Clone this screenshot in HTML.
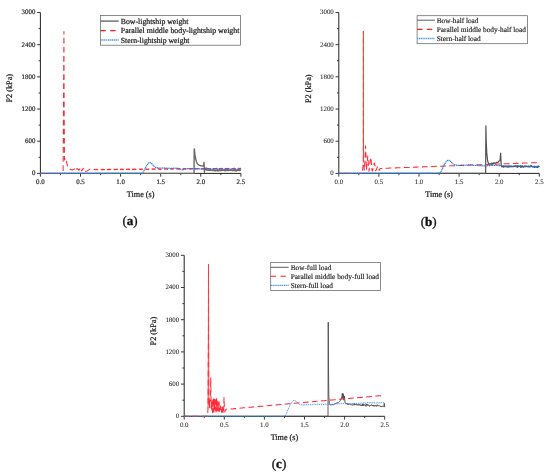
<!DOCTYPE html>
<html><head><meta charset="utf-8"><title>P2 pressure curves</title>
<style>
html,body{margin:0;padding:0;background:#fff;}
body{width:550px;height:476px;overflow:hidden;}
svg{display:block;text-rendering:geometricPrecision;filter:blur(0.35px);}
text{font-family:"Liberation Serif","DejaVu Serif",serif;fill:#1a1a1a;stroke:#1a1a1a;stroke-width:0.18px;}
.yt{font-size:6.9px;text-anchor:end;}
.xt{font-size:6.9px;text-anchor:middle;}
.xl{font-size:8.6px;text-anchor:middle;stroke-width:0.24px;}
.yl{font-size:8.5px;text-anchor:middle;stroke-width:0.2px;}
.lt{font-size:7.6px;stroke-width:0.22px;}
.lred{fill:none;stroke:#ff1f1f;stroke-width:1.1;stroke-dasharray:5.4 4.4;}
.lblue{fill:none;stroke:#3a8ce8;stroke-width:1.2;stroke-dasharray:1.2 0.7;}
.lblueb{fill:none;stroke:#4a94ea;stroke-width:1.35;stroke-dasharray:1.2 0.6;}
.lbluea{fill:none;stroke:#4a94ea;stroke-width:1.5;stroke-dasharray:1.3 0.6;}
.cap{font-size:13.1px;stroke-width:0.3px;text-anchor:middle;fill:#111;stroke:#111;}
.lt2{stroke-width:0.08px;fill:#2a2a2a;stroke:#2a2a2a;}
.b{font-weight:bold;stroke-width:0.35px;}
.ax{fill:none;stroke:#222;stroke-width:1;}
.tk{fill:none;stroke:#222;stroke-width:0.9;}
.lg{fill:none;stroke:#666;stroke-width:0.75;}
.red{fill:none;stroke:#ff2a3a;stroke-width:1.05;stroke-dasharray:5.7 3.4;stroke-linejoin:round;}
.bluec{fill:none;stroke:#2a84e8;stroke-width:1.0;stroke-dasharray:1.1 0.8;stroke-linejoin:round;}
.rsp{fill:none;stroke:#ff3838;stroke-width:0.8;}
.blue{fill:none;stroke:#1c78e0;stroke-width:1.15;stroke-dasharray:1.3 0.5;stroke-linejoin:round;}
.bow{fill:none;stroke:#4a4a4a;stroke-width:0.9;stroke-linejoin:round;}
.bowb{fill:none;stroke:#505050;stroke-width:1.2;stroke-linejoin:round;}
.bowa{fill:none;stroke:#6a6a6a;stroke-width:1.4;stroke-linejoin:round;}
</style></head>
<body>
<svg width="550" height="476" viewBox="0 0 550 476">
<path d="M40.40 12.50V173.40H240.90" class="ax"/>
<text x="35.40" y="175.35" class="yt">0</text>
<text x="35.40" y="143.17" class="yt">600</text>
<text x="35.40" y="110.99" class="yt">1200</text>
<text x="35.40" y="78.81" class="yt">1800</text>
<text x="35.40" y="46.63" class="yt">2400</text>
<text x="35.40" y="14.45" class="yt">3000</text>
<text x="40.40" y="184.00" class="xt">0.0</text>
<text x="80.50" y="184.00" class="xt">0.5</text>
<text x="120.60" y="184.00" class="xt">1.0</text>
<text x="160.70" y="184.00" class="xt">1.5</text>
<text x="200.80" y="184.00" class="xt">2.0</text>
<text x="240.90" y="184.00" class="xt">2.5</text>
<path d="M40.40 173.40h-3.3M40.40 141.22h-3.3M40.40 109.04h-3.3M40.40 76.86h-3.3M40.40 44.68h-3.3M40.40 12.50h-3.3M40.40 157.31h-1.8M40.40 125.13h-1.8M40.40 92.95h-1.8M40.40 60.77h-1.8M40.40 28.59h-1.8M40.40 173.40v3.3M80.50 173.40v3.3M120.60 173.40v3.3M160.70 173.40v3.3M200.80 173.40v3.3M240.90 173.40v3.3M60.45 173.40v1.8M100.55 173.40v1.8M140.65 173.40v1.8M180.75 173.40v1.8M220.85 173.40v1.8" class="tk"/>
<text x="140.65" y="197.40" class="xl" textLength="27.6" lengthAdjust="spacingAndGlyphs">Time (s)</text>
<text transform="translate(11.60 88.25) rotate(-90)" class="yl" textLength="28.6" lengthAdjust="spacingAndGlyphs">P2 (kPa)</text>
<path d="M40.40 173.40L194.06 173.40L194.22 149.00L194.38 149.00L194.70 152.28L195.03 154.92L195.35 157.04L195.67 158.74L195.99 160.11L196.31 161.21L196.63 162.09L196.95 162.81L197.27 163.39L197.59 163.86L197.91 164.24L198.23 164.55L198.55 164.80L198.88 165.01L199.20 165.18L199.52 165.33L199.84 165.45L200.16 165.55L200.48 165.64L200.80 165.71L201.12 165.78L201.44 165.84L201.76 165.89L202.08 165.94L202.40 165.98L202.72 166.02L203.05 166.06L203.37 166.09L203.69 166.13L203.93 162.41L204.17 165.36L204.41 172.33L204.73 168.57L205.29 169.65L206.09 167.77L206.90 170.18L207.62 170.07L208.02 169.97L208.42 170.18L208.82 170.42L209.22 170.26L209.62 170.46L210.02 170.07L210.42 169.59L210.82 170.28L211.23 170.33L211.63 169.92L212.03 169.97L212.43 170.07L212.83 170.46L213.23 170.12L213.63 169.85L214.03 170.62L214.43 170.29L214.83 170.84L215.24 170.61L215.64 170.82L216.04 170.22L216.44 170.61L216.84 170.03L217.24 170.08L217.64 170.21L218.04 171.09L218.44 170.35L218.84 170.17L219.25 170.11L219.65 170.73L220.05 170.34L220.45 170.53L220.85 170.47L221.25 169.77L221.65 170.47L222.05 170.18L222.45 169.84L222.85 170.40L223.26 170.22L223.66 170.14L224.06 170.16L224.46 170.65L224.86 170.16L225.26 169.68L225.66 170.78L226.06 169.88L226.46 170.16L226.86 170.44L227.27 169.46L227.67 169.92L228.07 170.66L228.47 170.19L228.87 170.00L229.27 170.29L229.67 169.97L230.07 170.25L230.47 169.98L230.87 169.69L231.28 170.49L231.68 170.16L232.08 170.41L232.48 170.19L232.88 170.69L233.28 170.46L233.68 170.32L234.08 169.91L234.48 169.82L234.88 170.75L235.29 170.56L235.69 170.02L236.09 171.01L236.49 170.44L236.89 170.31L237.29 169.80L237.69 170.02L238.09 170.40L238.49 170.42L238.89 170.38L239.30 169.71L239.70 170.45L240.10 170.41L240.50 170.16L240.90 170.34" class="bowa"/>
<path d="M40.40 173.40L63.10 173.40L63.94 31.54L64.10 98.31L64.46 159.99L65.50 158.01L67.51 166.00L69.99 169.32L72.00 170.02L74.48 169.00L75.53 170.99L76.97 168.52L78.90 170.18L80.90 167.50L81.70 170.99L83.31 168.30L84.35 171.79L86.92 170.99L90.12 169.11L93.33 169.54L94.94 169.34L95.34 169.63L95.74 169.41L96.14 169.70L96.54 169.38L96.94 169.72L97.34 169.19L97.74 169.74L98.14 169.24L98.55 169.70L98.95 169.34L99.35 169.65L99.75 169.31L100.15 169.55L100.55 169.43L100.95 169.79L101.35 169.40L101.75 169.63L102.15 169.36L102.56 169.92L102.96 169.30L103.36 169.61L103.76 169.36L104.16 169.75L104.56 169.31L104.96 169.82L105.36 169.14L105.76 169.68L106.16 169.23L106.57 169.53L106.97 169.26L107.37 169.68L107.77 169.38L108.17 169.75L108.57 169.33L108.97 169.41L109.37 169.22L109.77 169.67L110.17 169.21L110.58 169.66L110.98 169.25L111.38 169.42L111.78 169.31L112.18 169.70L112.58 169.31L112.98 169.81L113.38 169.11L113.78 169.52L114.18 169.30L114.59 169.81L114.99 169.22L115.39 169.57L115.79 169.41L116.19 169.56L116.59 169.19L116.99 169.54L117.39 169.24L117.79 169.60L118.19 169.22L118.60 169.65L119.00 168.96L119.40 169.43L119.80 169.19L120.20 169.65L120.60 169.22L121.00 169.55L121.40 169.08L121.80 169.59L122.20 169.09L122.61 169.67L123.01 169.04L123.41 169.52L123.81 169.02L124.21 169.33L124.61 169.19L125.01 169.55L125.41 169.03L125.81 169.64L126.21 169.22L126.62 169.54L127.02 169.18L127.42 169.48L127.82 169.06L128.22 169.45L128.62 169.01L129.02 169.56L129.42 169.13L129.82 169.54L130.22 169.17L130.63 169.40L131.03 169.07L131.43 169.65L131.83 168.99L132.23 169.63L132.63 169.17L133.03 169.57L133.43 169.17L133.83 169.52L134.23 169.02L134.64 169.55L135.04 169.14L135.44 169.41L135.84 169.19L136.24 169.43L136.64 169.11L137.04 169.38L137.44 169.10L137.84 169.34L138.24 168.98L138.65 169.39L139.05 169.01L139.45 169.30L139.85 169.17L140.25 169.46L140.65 168.96L141.05 169.44L141.45 168.92L141.85 169.48L142.25 169.05L142.66 169.36L143.06 169.01L143.46 169.43L143.86 169.02L144.26 169.41L144.66 168.94L145.06 169.27L145.46 168.96L145.86 169.45L146.26 168.84L146.67 169.44L147.07 169.19L147.47 169.40L147.87 169.01L148.27 169.41L148.67 168.94L149.07 169.31L149.47 169.01L149.87 169.34L150.27 168.74L150.68 169.23L151.08 168.99L151.48 169.39L151.88 168.99L152.28 169.45L152.68 168.81L153.08 169.26L153.48 168.85L153.88 169.30L154.28 168.89L154.69 169.26L155.09 168.90L155.49 169.28L155.89 168.83L156.29 169.28L156.69 168.82L157.09 169.24L157.49 168.99L157.89 169.42L158.29 168.78L158.70 169.22L159.10 168.85L159.50 169.36L159.90 168.85L160.30 169.38L160.70 168.94L161.10 169.44L161.50 168.86L161.90 169.13L162.30 168.84L162.71 169.28L163.11 168.83L163.51 169.11L163.91 169.01L164.31 169.27L164.71 168.80L165.11 169.11L165.51 168.61L165.91 169.07L166.31 168.84L166.72 169.14L167.12 168.80L167.52 169.34L167.92 168.83L168.32 169.10L168.72 168.56L169.12 169.24L169.52 168.83L169.92 169.17L170.32 168.59L170.73 169.18L171.13 168.60L171.53 169.20L171.93 168.74L172.33 169.25L172.73 168.63L173.13 169.12L173.53 168.90L173.93 169.18L174.33 168.71L174.74 169.27L175.14 168.92L175.54 169.03L175.94 168.68L176.34 169.16L176.74 168.70L177.14 169.00L177.54 168.79L177.94 169.10L178.34 168.76L178.75 169.25L179.15 168.60L179.55 169.27L179.95 168.58L180.35 169.15L180.75 168.79L181.15 169.14L181.55 168.77L181.95 169.08L182.35 168.69L182.76 169.18L183.16 168.58L183.56 168.89L183.96 168.51L184.36 169.01L184.76 168.59L185.16 168.97L185.56 168.69L185.96 169.18L186.36 168.60L186.77 169.02L187.17 168.66L187.57 169.29L187.97 168.78L188.37 168.95L188.77 168.65L189.17 169.16L189.57 168.67L189.97 169.04L190.37 168.60L190.78 169.08L191.18 168.76L191.58 169.00L191.98 168.61L192.38 168.87L192.78 168.66L193.18 169.11L193.58 168.64L193.98 169.09L194.38 168.59L194.79 169.23L195.19 168.72L195.59 169.09L195.99 168.44L196.39 168.92L196.79 168.67L197.19 168.91L197.59 168.43L197.99 169.05L198.39 168.60L198.80 168.81L199.20 168.43L199.60 168.99L200.00 168.52L200.40 168.77L200.80 168.42L201.20 168.88L201.60 168.55L202.00 169.06L202.40 168.48L202.81 168.91L203.21 168.55L203.61 168.96L204.01 168.55L204.41 169.04L204.81 168.46L205.21 168.97L205.61 168.53L206.01 168.95L206.41 168.53L206.82 169.15L207.22 168.39L207.62 168.89L208.02 168.35L208.42 168.81L208.82 168.54L209.22 169.01L209.62 168.62L210.02 169.09L210.42 168.44L210.83 168.85L211.23 168.56L211.63 168.82L212.03 168.59L212.43 168.86L212.83 168.40L213.23 168.83L213.63 168.49L214.03 168.94L214.43 168.57L214.84 168.97L215.24 168.45L215.64 168.77L216.04 168.22L216.44 168.80L216.84 168.32L217.24 168.95L217.64 168.24L218.04 168.88L218.44 168.38L218.85 168.83L219.25 168.46L219.65 168.92L220.05 168.47L220.45 169.00L220.85 168.41L221.25 168.60L221.65 168.32L222.05 168.78L222.45 168.34L222.86 168.68L223.26 168.40L223.66 168.84L224.06 168.24L224.46 168.74L224.86 168.31L225.26 168.70L225.66 168.40L226.06 168.86L226.46 168.41L226.87 168.64L227.27 168.49L227.67 168.89L228.07 168.42L228.47 168.74L228.87 168.34L229.27 168.65L229.67 168.42L230.07 168.62L230.47 168.31L230.88 168.73L231.28 168.20L231.68 168.82L232.08 168.51L232.48 168.81L232.88 168.43L233.28 168.83L233.68 168.34L234.08 168.71L234.48 168.15L234.89 168.82L235.29 168.50L235.69 168.78L236.09 168.34L236.49 168.83L236.89 168.32L237.29 168.78L237.69 168.49L238.09 168.59L238.49 168.21L238.90 168.61L239.30 168.26L239.70 168.68L240.10 168.22L240.50 168.59L240.90 168.16" class="red" stroke-dashoffset="2.09"/>
<path d="M40.40 173.40L141.85 173.40L142.25 173.16L142.66 172.73L143.06 172.17L143.46 171.53L143.86 170.82L144.26 170.07L144.66 169.29L145.06 168.49L145.46 167.70L145.86 166.93L146.26 166.18L146.66 165.48L147.07 164.83L147.47 164.24L147.87 163.73L148.27 163.30L148.67 162.96L149.07 162.71L149.47 162.56L149.87 162.51L150.27 162.57L150.67 162.73L151.08 162.99L151.48 163.33L151.88 163.73L152.28 164.18L152.68 164.65L153.08 165.12L153.48 165.58L153.88 166.00L154.28 166.39L154.68 166.73L155.09 167.02L155.49 167.26L155.89 167.45L156.29 167.61L156.69 167.73L157.09 167.82L157.49 167.89L157.89 167.94L158.29 167.99L159.10 167.97L159.90 168.10L160.70 167.98L161.50 167.98L162.30 167.95L163.11 168.08L163.91 167.86L164.71 168.02L165.51 168.16L166.31 168.24L167.12 168.16L167.92 168.18L168.72 168.26L169.52 168.22L170.32 168.29L171.13 168.20L171.93 168.30L172.73 168.23L173.53 168.13L174.33 167.98L175.14 168.24L175.94 168.18L176.74 168.21L177.54 168.12L178.34 168.39L179.15 168.57L179.95 168.88L180.75 169.37L181.55 169.72L182.35 169.84L183.16 169.89L183.96 169.55L184.76 169.11L185.56 168.79L186.36 168.64L187.17 168.68L187.97 168.55L188.77 168.45L189.57 168.48L190.37 168.54L191.18 168.60L191.98 168.48L192.78 168.58L193.58 168.64L194.38 168.62L195.19 168.46L195.99 168.59L196.79 168.55L197.59 168.74L198.39 168.68L199.20 168.87L200.00 168.89L200.80 168.75L201.60 168.92L202.40 169.05L203.21 169.04L204.01 169.02L204.81 168.95L205.61 169.08L206.41 169.17L207.22 169.03L208.02 168.98L208.82 168.95L209.62 168.83L210.42 168.89L211.23 168.84L212.03 168.99L212.83 168.83L213.63 168.75L214.43 168.88L215.24 168.95L216.04 169.00L216.84 168.90L217.64 169.16L218.44 169.13L219.25 169.11L220.05 169.11L220.85 169.22L221.65 169.16L222.45 169.20L223.26 169.15L224.06 169.15L224.86 169.21L225.66 169.10L226.46 169.00L227.27 169.13L228.07 169.06L228.87 168.98L229.67 169.13L230.47 169.04L231.28 169.16L232.08 169.02L232.88 168.96L233.68 169.02L234.48 169.24L235.29 169.20L236.09 169.27L236.89 169.30L237.69 169.19L238.49 169.43L239.30 169.23L240.10 169.30L240.90 169.16" class="blue"/>
<path d="M338.80 12.50V173.40H539.30" class="ax"/>
<text x="333.80" y="175.35" class="yt lt2">0</text>
<text x="333.80" y="143.17" class="yt lt2">600</text>
<text x="333.80" y="110.99" class="yt lt2">1200</text>
<text x="333.80" y="78.81" class="yt lt2">1800</text>
<text x="333.80" y="46.63" class="yt lt2">2400</text>
<text x="333.80" y="14.45" class="yt lt2">3000</text>
<text x="338.80" y="184.00" class="xt lt2">0.0</text>
<text x="378.90" y="184.00" class="xt lt2">0.5</text>
<text x="419.00" y="184.00" class="xt lt2">1.0</text>
<text x="459.10" y="184.00" class="xt lt2">1.5</text>
<text x="499.20" y="184.00" class="xt lt2">2.0</text>
<text x="539.30" y="184.00" class="xt lt2">2.5</text>
<path d="M338.80 173.40h-3.3M338.80 141.22h-3.3M338.80 109.04h-3.3M338.80 76.86h-3.3M338.80 44.68h-3.3M338.80 12.50h-3.3M338.80 157.31h-1.8M338.80 125.13h-1.8M338.80 92.95h-1.8M338.80 60.77h-1.8M338.80 28.59h-1.8M338.80 173.40v3.3M378.90 173.40v3.3M419.00 173.40v3.3M459.10 173.40v3.3M499.20 173.40v3.3M539.30 173.40v3.3M358.85 173.40v1.8M398.95 173.40v1.8M439.05 173.40v1.8M479.15 173.40v1.8M519.25 173.40v1.8" class="tk"/>
<text x="439.05" y="197.00" class="xl" textLength="27.6" lengthAdjust="spacingAndGlyphs">Time (s)</text>
<text transform="translate(310.60 88.70) rotate(-90)" class="yl" textLength="28.6" lengthAdjust="spacingAndGlyphs">P2 (kPa)</text>
<path d="M338.80 173.40L485.65 173.40L485.89 125.88L486.21 141.22L486.77 153.02L487.57 160.53L488.37 163.21L489.18 164.01L490.38 163.75L491.18 164.55L491.98 162.94L492.78 164.28L493.99 162.67L495.19 163.48L496.39 162.41L497.60 162.67L498.80 161.33L500.00 160.53L500.64 153.02L500.96 159.99L501.29 166.16L501.61 166.45L501.93 166.82L502.25 166.42L502.57 166.22L502.89 166.52L503.21 166.33L503.53 166.76L503.85 167.45L504.17 166.15L504.49 166.23L504.81 166.47L505.13 166.51L505.46 166.09L505.78 166.73L506.10 166.84L506.42 166.62L506.74 166.02L507.06 167.13L507.38 166.02L507.70 166.81L508.02 167.01L508.34 165.99L508.66 166.58L508.98 167.09L509.31 166.69L509.63 166.14L509.95 166.02L510.27 166.72L510.59 166.36L510.91 166.23L511.23 166.81L511.55 166.38L511.87 166.55L512.19 166.76L512.51 166.75L512.83 166.51L513.15 166.52L513.48 166.78L513.80 166.72L514.12 166.06L514.44 166.44L514.76 166.16L515.08 166.02L515.40 166.28L515.72 165.56L516.04 166.89L516.36 166.19L516.68 166.67L517.00 165.74L517.33 165.81L517.65 167.37L517.97 166.95L518.29 166.25L518.61 166.20L518.93 166.22L519.25 166.57L519.57 166.34L519.89 166.25L520.21 166.57L520.53 166.09L520.85 167.50L521.17 166.26L521.50 166.98L521.82 166.12L522.14 166.63L522.46 166.92L522.78 166.37L523.10 166.93L523.42 166.93L523.74 167.21L524.06 166.55L524.38 166.32L524.70 166.10L525.02 166.60L525.35 166.09L525.67 166.53L525.99 166.57L526.31 166.29L526.63 166.08L526.95 166.68L527.27 166.64L527.59 166.60L527.91 166.50L528.23 166.92L528.55 166.09L528.87 166.71L529.19 166.34L529.52 166.89L529.84 166.38L530.16 166.37L530.48 166.72L530.80 165.67L531.12 166.38L531.44 165.77L531.76 166.12L532.08 166.82L532.40 166.70L532.72 166.35L533.04 166.51L533.37 166.51L533.69 166.66L534.01 167.31L534.33 166.63L534.65 167.49L534.97 166.38L535.29 166.85L535.61 166.84L535.93 166.63L536.25 166.42L536.57 167.15L536.89 167.29L537.21 166.99L537.54 167.41L537.86 166.95L538.18 165.85L538.50 166.99L538.82 166.26L539.14 167.12" class="bowb"/>
<path d="M338.80 173.40L362.22 173.40L363.38 162.67L363.42 31.27L363.46 159.99L363.82 162.67L364.30 170.18L364.95 161.06L365.51 145.78L365.91 153.02L366.39 170.18L367.03 163.75L367.83 155.81L368.39 165.36L369.04 171.25L369.76 164.28L370.56 157.31L371.20 160.53L371.92 170.18L372.56 170.99L373.29 166.96L374.25 162.94L374.89 164.82L375.61 170.72L376.33 169.65L377.14 167.50L378.02 166.16L378.58 168.04L379.14 170.45L379.70 169.11L380.50 168.41L381.31 168.40L382.11 168.39L382.91 168.35L383.71 168.31L384.51 168.25L385.32 168.26L386.12 168.23L386.92 168.23L387.72 168.16L388.52 168.15L389.33 168.09L390.13 168.08L390.93 168.01L391.73 168.08L392.53 168.00L393.34 167.94L394.14 167.94L394.94 167.92L395.74 167.88L396.54 167.88L397.35 167.81L398.15 167.72L398.95 167.72L399.75 167.75L400.55 167.72L401.36 167.67L402.16 167.61L402.96 167.63L403.76 167.59L404.56 167.52L405.37 167.49L406.17 167.49L406.97 167.48L407.77 167.47L408.57 167.41L409.38 167.42L410.18 167.31L410.98 167.32L411.78 167.26L412.58 167.19L413.39 167.18L414.19 167.22L414.99 167.13L415.79 167.09L416.59 167.11L417.40 167.09L418.20 167.04L419.00 167.05L419.80 166.94L420.60 167.01L421.41 166.94L422.21 166.89L423.01 166.86L423.81 166.82L424.61 166.79L425.42 166.77L426.22 166.70L427.02 166.76L427.82 166.68L428.62 166.66L429.43 166.61L430.23 166.58L431.03 166.58L431.83 166.54L432.63 166.47L433.44 166.46L434.24 166.45L435.04 166.35L435.84 166.31L436.64 166.38L437.45 166.31L438.25 166.22L439.05 166.23L439.85 166.22L440.65 166.20L441.46 166.18L442.26 166.14L443.06 166.12L443.86 166.06L444.66 166.06L445.47 166.03L446.27 166.02L447.07 165.96L447.87 165.95L448.67 165.90L449.48 165.84L450.28 165.83L451.08 165.79L451.88 165.77L452.68 165.75L453.49 165.72L454.29 165.70L455.09 165.64L455.89 165.66L456.69 165.56L457.50 165.57L458.30 165.56L459.10 165.52L459.90 165.50L460.70 165.44L461.51 165.44L462.31 165.36L463.11 165.38L463.91 165.39L464.71 165.32L465.52 165.32L466.32 165.24L467.12 165.18L467.92 165.16L468.72 165.18L469.53 165.14L470.33 165.04L471.13 165.05L471.93 165.03L472.73 164.97L473.54 164.90L474.34 164.90L475.14 164.90L475.94 164.87L476.74 164.83L477.55 164.83L478.35 164.82L479.15 164.76L479.95 164.75L480.75 164.70L481.56 164.67L482.36 164.58L483.16 164.63L483.96 164.58L484.76 164.55L485.57 164.51L486.37 164.46L487.17 164.47L487.97 164.45L488.77 164.44L489.58 164.39L490.38 164.32L491.18 164.31L491.98 164.31L492.78 164.26L493.59 164.22L494.39 164.18L495.19 164.18L495.99 164.14L496.79 164.15L497.60 164.10L498.40 164.00L499.20 164.07L500.00 163.99L500.80 163.94L501.61 163.93L502.41 163.91L503.21 163.86L504.01 163.83L504.81 163.80L505.62 163.82L506.42 163.74L507.22 163.73L508.02 163.70L508.82 163.64L509.63 163.60L510.43 163.57L511.23 163.57L512.03 163.51L512.83 163.47L513.64 163.44L514.44 163.40L515.24 163.41L516.04 163.39L516.84 163.33L517.65 163.36L518.45 163.29L519.25 163.28L520.05 163.24L520.85 163.25L521.66 163.20L522.46 163.14L523.26 163.09L524.06 163.05L524.86 163.05L525.67 163.03L526.47 163.01L527.27 162.95L528.07 162.94L528.87 162.89L529.68 162.82L530.48 162.84L531.28 162.85L532.08 162.81L532.88 162.79L533.69 162.75L534.49 162.66L535.29 162.66L536.09 162.67L536.89 162.58L537.70 162.54L538.50 162.55L539.30 162.53" class="red" stroke-dashoffset="1.04"/>
<path d="M363.38 162.67L363.42 31.27L363.46 159.99" class="rsp"/>
<path d="M338.80 173.40L439.37 173.40L439.69 173.23L440.09 172.82L440.49 172.28L440.89 171.64L441.30 170.93L441.70 170.16L442.10 169.35L442.50 168.51L442.90 167.66L443.30 166.81L443.70 165.97L444.10 165.15L444.50 164.37L444.90 163.63L445.31 162.94L445.71 162.32L446.11 161.76L446.51 161.28L446.91 160.89L447.31 160.58L447.71 160.36L448.11 160.24L448.43 160.21L448.83 160.25L449.24 160.40L449.64 160.63L450.04 160.93L450.44 161.29L450.84 161.68L451.24 162.10L451.64 162.51L452.04 162.92L452.44 163.29L452.84 163.63L453.25 163.93L453.65 164.19L454.05 164.40L454.45 164.57L454.85 164.71L455.25 164.82L455.65 164.90L456.05 164.95L456.45 165.00L456.69 165.38L457.50 165.31L458.30 165.28L459.10 165.20L459.90 165.20L460.70 165.19L461.51 165.14L462.31 165.23L463.11 165.55L463.91 165.29L464.71 165.17L465.52 165.25L466.32 165.00L467.12 165.17L467.92 165.23L468.72 164.83L469.53 164.95L470.33 165.02L471.13 164.91L471.93 164.91L472.73 165.05L473.54 165.54L474.34 165.31L475.14 165.33L475.94 165.47L476.74 165.35L477.55 165.26L478.35 165.59L479.15 165.76L479.95 165.31L480.75 165.76L481.56 165.93L482.36 165.73L483.16 165.73L483.96 165.92L484.76 165.69L485.57 165.89L486.37 165.94L487.17 165.74L487.97 165.61L488.77 165.80L489.58 165.61L490.38 165.64L491.18 165.13L491.98 165.66L492.78 165.29L493.59 165.50L494.39 165.50L495.19 165.36L495.99 165.33L496.79 165.29L497.60 165.46L498.40 165.65L499.20 165.68L500.00 165.57L500.80 165.62L501.61 165.55L502.41 165.77L503.21 165.74L504.01 165.73L504.81 166.01L505.62 166.33L506.42 166.33L507.22 166.41L508.02 165.95L508.82 166.36L509.63 166.04L510.43 166.14L511.23 165.95L512.03 166.04L512.83 166.19L513.64 166.17L514.44 166.09L515.24 166.03L516.04 166.11L516.84 165.99L517.65 165.69L518.45 166.20L519.25 165.86L520.05 166.04L520.85 165.86L521.66 165.77L522.46 165.94L523.26 165.83L524.06 166.25L524.86 165.87L525.67 166.20L526.47 166.07L527.27 166.20L528.07 166.72L528.87 166.49L529.68 166.39L530.48 166.24L531.28 166.49L532.08 166.54L532.88 166.84L533.69 166.41L534.49 166.36L535.29 166.65L536.09 166.68L536.89 166.89L537.70 166.46L538.50 166.14L539.30 166.42" class="blue"/>
<path d="M184.20 255.30V416.30H384.70" class="ax"/>
<text x="179.20" y="418.25" class="yt lt2">0</text>
<text x="179.20" y="386.05" class="yt lt2">600</text>
<text x="179.20" y="353.85" class="yt lt2">1200</text>
<text x="179.20" y="321.65" class="yt lt2">1800</text>
<text x="179.20" y="289.45" class="yt lt2">2400</text>
<text x="179.20" y="257.25" class="yt lt2">3000</text>
<text x="184.20" y="426.90" class="xt lt2">0.0</text>
<text x="224.30" y="426.90" class="xt lt2">0.5</text>
<text x="264.40" y="426.90" class="xt lt2">1.0</text>
<text x="304.50" y="426.90" class="xt lt2">1.5</text>
<text x="344.60" y="426.90" class="xt lt2">2.0</text>
<text x="384.70" y="426.90" class="xt lt2">2.5</text>
<path d="M184.20 416.30h-3.3M184.20 384.10h-3.3M184.20 351.90h-3.3M184.20 319.70h-3.3M184.20 287.50h-3.3M184.20 255.30h-3.3M184.20 400.20h-1.8M184.20 368.00h-1.8M184.20 335.80h-1.8M184.20 303.60h-1.8M184.20 271.40h-1.8M184.20 416.30v3.3M224.30 416.30v3.3M264.40 416.30v3.3M304.50 416.30v3.3M344.60 416.30v3.3M384.70 416.30v3.3M204.25 416.30v1.8M244.35 416.30v1.8M284.45 416.30v1.8M324.55 416.30v1.8M364.65 416.30v1.8" class="tk"/>
<text x="284.45" y="439.70" class="xl" textLength="27.6" lengthAdjust="spacingAndGlyphs">Time (s)</text>
<text transform="translate(156.00 331.10) rotate(-90)" class="yl" textLength="28.6" lengthAdjust="spacingAndGlyphs">P2 (kPa)</text>
<path d="M184.20 416.30L328.00 416.30L328.24 322.12L328.48 368.00L328.80 394.83L329.36 403.96L330.16 404.82L330.97 405.03L332.17 404.49L333.37 404.76L334.57 403.96L335.78 403.42L336.98 402.88L338.18 402.62L339.39 401.81L340.59 400.20L341.79 396.98L342.35 393.22L342.84 398.59L343.32 393.76L343.80 400.20L344.36 395.91L345.00 402.35L346.20 403.96L347.01 403.45L347.33 403.82L347.65 404.58L347.97 403.47L348.29 404.73L348.61 404.26L348.93 404.04L349.25 403.77L349.57 404.01L349.89 404.05L350.21 404.62L350.53 404.89L350.86 404.26L351.18 404.65L351.50 404.96L351.82 404.96L352.14 404.60L352.46 405.28L352.78 405.05L353.10 405.21L353.42 404.35L353.74 404.26L354.06 403.51L354.38 405.22L354.71 404.84L355.03 404.09L355.35 404.65L355.67 404.73L355.99 403.76L356.31 404.77L356.63 405.18L356.95 405.28L357.27 404.50L357.59 404.53L357.91 405.36L358.23 405.19L358.55 404.48L358.88 404.48L359.20 405.08L359.52 404.49L359.84 404.53L360.16 405.69L360.48 405.00L360.80 404.67L361.12 405.16L361.44 405.94L361.76 405.06L362.08 404.58L362.40 404.20L362.73 406.04L363.05 403.74L363.37 405.56L363.69 404.57L364.01 404.46L364.33 404.60L364.65 405.02L364.97 405.67L365.29 404.83L365.61 405.49L365.93 406.38L366.25 403.82L366.57 404.86L366.90 404.34L367.22 405.68L367.54 404.55L367.86 404.51L368.18 404.55L368.50 405.32L368.82 405.91L369.14 405.44L369.46 406.43L369.78 406.21L370.10 405.36L370.42 405.91L370.75 405.52L371.07 405.52L371.39 404.55L371.71 404.87L372.03 405.54L372.35 404.95L372.67 405.93L372.99 405.74L373.31 405.16L373.63 406.21L373.95 405.77L374.27 406.29L374.59 405.61L374.92 404.90L375.24 406.07L375.56 405.62L375.88 406.18L376.20 406.32L376.52 406.38L376.84 405.10L377.16 404.68L377.48 405.60L377.80 406.20L378.12 405.53L378.44 406.05L378.77 405.52L379.09 405.79L379.41 405.81L379.73 405.67L380.05 406.27L380.37 406.20L380.69 406.86L381.01 406.26L381.33 406.75L381.65 406.15L381.97 406.56L382.29 406.07L382.61 405.92L382.94 406.84L383.26 406.57L383.58 406.65L383.90 405.85L383.90 405.57L384.30 403.42L384.70 407.18" class="bow"/>
<path d="M184.20 416.30L207.46 416.30L208.02 408.25L208.42 335.80L208.50 264.42L208.58 335.80L208.82 405.57L209.22 398.59L209.62 408.25L210.02 400.20L210.55 392.15L210.75 377.66L210.95 394.83L211.23 408.25L211.47 401.61L211.83 410.07L212.11 401.52L212.54 412.49L212.85 397.76L213.23 411.13L213.59 399.10L213.91 412.18L214.32 399.06L214.68 409.09L215.05 397.61L215.37 410.29L215.72 400.55L216.10 411.74L216.51 398.44L216.81 410.68L217.14 402.70L217.56 410.85L217.86 401.00L218.18 408.70L218.49 404.30L218.81 411.23L219.16 401.72L219.55 411.26L219.84 405.22L220.28 410.71L220.67 406.44L220.96 408.95L221.33 406.35L221.66 412.40L221.97 407.86L222.39 410.68L222.69 406.76L223.00 412.53L223.38 407.26L223.66 410.40L224.02 397.52L224.38 408.79L224.78 412.01L225.26 410.13L225.90 409.59L226.55 409.32L227.11 409.28L227.91 409.23L228.71 409.19L229.51 409.07L230.31 409.08L231.12 408.93L231.92 408.91L232.72 408.90L233.52 408.68L234.32 408.64L235.13 408.64L235.93 408.53L236.73 408.47L237.53 408.39L238.34 408.36L239.14 408.27L239.94 408.17L240.74 408.10L241.54 408.00L242.34 407.96L243.15 407.83L243.95 407.84L244.75 407.74L245.55 407.73L246.36 407.64L247.16 407.50L247.96 407.49L248.76 407.38L249.56 407.32L250.37 407.28L251.17 407.19L251.97 407.12L252.77 407.05L253.57 406.94L254.38 406.87L255.18 406.83L255.98 406.77L256.78 406.67L257.58 406.61L258.38 406.51L259.19 406.39L259.99 406.37L260.79 406.32L261.59 406.25L262.40 406.20L263.20 406.13L264.00 406.06L264.80 405.97L265.60 405.90L266.41 405.80L267.21 405.76L268.01 405.68L268.81 405.64L269.61 405.49L270.42 405.45L271.22 405.34L272.02 405.29L272.82 405.20L273.62 405.18L274.43 405.08L275.23 404.96L276.03 404.99L276.83 404.86L277.63 404.77L278.44 404.73L279.24 404.65L280.04 404.57L280.84 404.55L281.64 404.45L282.45 404.41L283.25 404.33L284.05 404.26L284.85 404.18L285.65 404.10L286.46 404.02L287.26 404.00L288.06 403.83L288.86 403.78L289.66 403.72L290.47 403.68L291.27 403.60L292.07 403.51L292.87 403.44L293.67 403.43L294.48 403.29L295.28 403.16L296.08 403.22L296.88 403.07L297.68 403.02L298.49 402.96L299.29 402.85L300.09 402.84L300.89 402.74L301.69 402.63L302.50 402.60L303.30 402.54L304.10 402.45L304.90 402.39L305.70 402.27L306.51 402.26L307.31 402.14L308.11 402.13L308.91 402.01L309.71 401.96L310.52 401.95L311.32 401.81L312.12 401.77L312.92 401.68L313.72 401.55L314.53 401.55L315.33 401.48L316.13 401.34L316.93 401.31L317.73 401.20L318.54 401.16L319.34 401.12L320.14 401.02L320.94 400.92L321.74 400.85L322.55 400.81L323.35 400.74L324.15 400.67L324.95 400.61L325.75 400.47L326.56 400.45L327.36 400.41L328.16 400.32L328.96 400.22L329.76 400.15L330.57 400.10L331.37 400.04L332.17 399.95L332.97 399.92L333.77 399.84L334.58 399.71L335.38 399.68L336.18 399.58L336.98 399.49L337.78 399.43L338.59 399.38L339.39 399.25L340.19 399.22L340.99 399.17L341.79 399.07L342.60 399.01L343.40 398.97L344.20 398.87L345.00 398.81L345.80 398.79L346.61 398.67L347.41 398.60L348.21 398.53L349.01 398.49L349.81 398.39L350.62 398.30L351.42 398.23L352.22 398.19L353.02 398.07L353.82 398.05L354.63 397.95L355.43 397.84L356.23 397.82L357.03 397.75L357.83 397.63L358.64 397.60L359.44 397.52L360.24 397.44L361.04 397.34L361.84 397.36L362.65 397.25L363.45 397.19L364.25 397.12L365.05 397.04L365.85 396.97L366.66 396.86L367.46 396.83L368.26 396.73L369.06 396.65L369.86 396.61L370.67 396.51L371.47 396.40L372.27 396.36L373.07 396.32L373.87 396.23L374.68 396.18L375.48 396.08L376.28 395.99L377.08 395.96L377.88 395.88L378.69 395.77L379.49 395.74L380.29 395.65L381.09 395.61L381.89 395.54L382.70 395.46L383.50 395.31L384.30 395.31" class="red" stroke-dashoffset="0.59"/>
<path d="M208.02 408.25L208.42 335.80L208.50 264.42L208.58 335.80L208.82 405.57" class="rsp"/>
<path d="M184.20 416.30L284.29 416.30L284.61 416.12L285.01 415.69L285.41 415.12L285.81 414.45L286.21 413.70L286.62 412.88L287.02 412.01L287.42 411.11L287.82 410.19L288.22 409.25L288.62 408.32L289.02 407.40L289.42 406.50L289.82 405.63L290.22 404.80L290.63 404.03L291.03 403.31L291.43 402.66L291.83 402.08L292.23 401.58L292.63 401.17L293.03 400.84L293.43 400.61L293.83 400.46L294.23 400.41L294.23 400.41L294.64 400.47L295.04 400.62L295.44 400.87L295.84 401.19L296.24 401.57L296.64 401.97L297.04 402.39L297.44 402.79L297.84 403.16L298.24 403.50L298.65 403.79L299.05 404.03L299.45 404.22L299.85 404.38L300.25 404.49L300.65 404.58L301.05 404.64L301.45 404.68L301.85 404.71L302.09 405.04L302.90 405.05L303.70 404.98L304.50 404.83L305.30 404.88L306.10 404.55L306.91 404.80L307.71 404.56L308.51 404.69L309.31 404.58L310.11 404.85L310.92 404.58L311.72 404.51L312.52 404.48L313.32 404.74L314.12 404.20L314.93 404.37L315.73 404.34L316.53 404.29L317.33 404.27L318.13 404.16L318.94 404.43L319.74 404.39L320.54 404.20L321.34 404.24L322.14 404.35L322.95 404.40L323.75 404.46L324.55 404.36L325.35 404.17L326.15 404.54L326.96 404.13L327.76 404.24L328.56 404.43L329.36 404.21L330.16 404.54L330.97 404.55L331.77 404.43L332.57 404.24L333.37 404.16L334.17 404.13L334.98 403.97L335.78 404.26L336.58 403.77L337.38 404.02L338.18 403.84L338.99 403.74L339.79 403.81L340.59 403.81L341.39 403.72L342.19 403.54L343.00 403.42L343.80 403.42L344.60 403.67L345.40 403.65L346.20 403.68L347.01 403.48L347.81 403.89L348.61 403.38L349.41 403.68L350.21 403.74L351.02 403.57L351.82 403.46L352.62 403.56L353.42 403.44L354.22 403.56L355.03 403.36L355.83 403.32L356.63 403.49L357.43 403.19L358.23 403.33L359.04 403.28L359.84 403.38L360.64 403.21L361.44 402.97L362.24 403.24L363.05 402.86L363.85 402.85L364.65 402.80L365.45 403.16L366.25 402.78L367.06 402.63L367.86 402.84L368.66 402.69L369.46 403.08L370.26 402.59L371.07 402.82L371.87 402.58L372.67 403.03L373.47 402.64L374.27 402.80L375.08 402.65L375.88 402.94L376.68 402.89L377.48 402.43L378.28 402.91L379.09 402.87L379.89 402.77L380.69 402.86L381.49 402.45L382.29 402.32L383.10 402.65L383.90 402.75L384.70 402.21L384.70 402.08" class="bluec"/>
<rect x="100.40" y="15.40" width="140.10" height="29.80" class="lg"/>
<path d="M100.40 21.10h18.30" class="bowa"/>
<text x="120.80" y="23.60" class="lt" style="font-size:7.80px;stroke-width:0.22px" textLength="67.60" lengthAdjust="spacingAndGlyphs">Bow-lightship weight</text>
<path d="M100.40 30.60h18.30" class="lred"/>
<text x="120.80" y="33.10" class="lt" style="font-size:7.80px;stroke-width:0.22px" textLength="118.60" lengthAdjust="spacingAndGlyphs">Parallel middle body-lightship weight</text>
<path d="M100.40 40.00h18.30" class="lbluea"/>
<text x="120.80" y="42.50" class="lt" style="font-size:7.80px;stroke-width:0.22px" textLength="68.70" lengthAdjust="spacingAndGlyphs">Stern-lightship weight</text>
<rect x="417.10" y="15.70" width="110.50" height="28.00" class="lg"/>
<path d="M417.10 20.20h17.80" class="bow"/>
<text x="436.70" y="22.90" class="lt" style="font-size:7.30px;stroke-width:0.15px" textLength="41.80" lengthAdjust="spacingAndGlyphs">Bow-half load</text>
<path d="M417.10 29.40h17.80" class="lred"/>
<text x="436.70" y="32.10" class="lt" style="font-size:7.30px;stroke-width:0.15px" textLength="89.20" lengthAdjust="spacingAndGlyphs">Parallel middle body-half load</text>
<path d="M417.10 38.50h17.80" class="lblueb"/>
<text x="436.70" y="41.20" class="lt" style="font-size:7.30px;stroke-width:0.15px" textLength="44.00" lengthAdjust="spacingAndGlyphs">Stern-half load</text>
<rect x="270.70" y="262.40" width="109.80" height="28.10" class="lg"/>
<path d="M270.70 267.30h18.00" class="bow"/>
<text x="290.70" y="269.80" class="lt" style="font-size:7.30px;stroke-width:0.15px" textLength="40.60" lengthAdjust="spacingAndGlyphs">Bow-full load</text>
<path d="M270.70 276.30h18.00" class="lred"/>
<text x="290.70" y="278.80" class="lt" style="font-size:7.30px;stroke-width:0.15px" textLength="88.30" lengthAdjust="spacingAndGlyphs">Parallel middle body-full load</text>
<path d="M270.70 285.30h18.00" class="lblue"/>
<text x="290.70" y="287.80" class="lt" style="font-size:7.30px;stroke-width:0.15px" textLength="42.20" lengthAdjust="spacingAndGlyphs">Stern-full load</text>
<text x="130.1" y="225.0" class="cap">(<tspan class="b">a</tspan>)</text>
<text x="428.7" y="225.6" class="cap">(<tspan class="b">b</tspan>)</text>
<text x="279.0" y="468.2" class="cap">(<tspan class="b">c</tspan>)</text>
</svg>
</body></html>
